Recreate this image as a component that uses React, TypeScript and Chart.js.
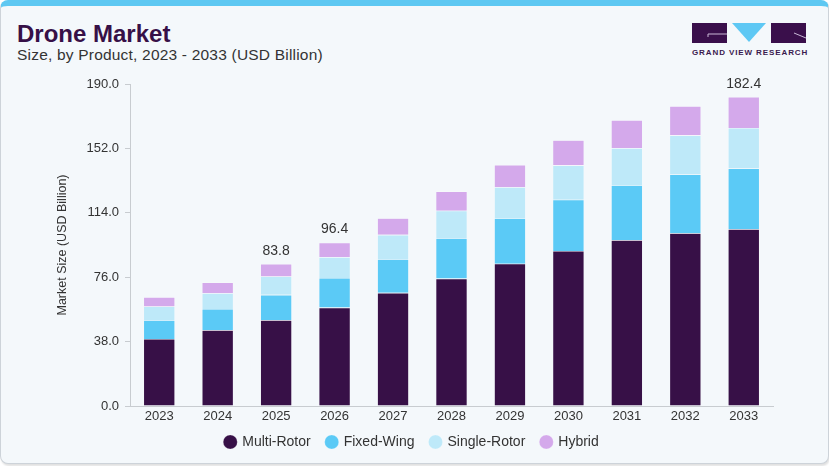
import React, { useEffect, useRef } from "react";
import { Chart, registerables } from "chart.js";

Chart.register(...registerables);

const years = ["2023", "2024", "2025", "2026", "2027", "2028", "2029", "2030", "2031", "2032", "2033"];
const multiRotor = [39.6, 44.8, 50.7, 58.1, 66.8, 75.2, 84.0, 91.5, 97.9, 102.0, 104.4];
const fixedWing = [11.1, 12.5, 14.9, 17.5, 19.9, 23.9, 26.8, 30.2, 32.4, 34.6, 35.8];
const singleRotor = [8.0, 9.3, 10.8, 12.3, 14.3, 16.1, 18.3, 20.3, 21.9, 23.1, 23.9];
const hybrid = [5.6, 6.4, 7.4, 8.5, 9.8, 11.5, 13.1, 14.8, 16.5, 17.3, 18.3];
const totalLabels = ["", "", "83.8", "96.4", "", "", "", "", "", "", "182.4"];
const yMin = 0;
const yMax = 190;
const yStep = 38;

const FONT = "'Liberation Sans', Arial, sans-serif";

const totalsPlugin = {
  id: "totals",
  afterDatasetsDraw(chart: any) {
    const ctx = chart.ctx;
    const lastMeta = chart.getDatasetMeta(chart.data.datasets.length - 1);
    ctx.save();
    ctx.font = `14px ${FONT}`;
    ctx.fillStyle = "#333333";
    ctx.textAlign = "center";
    ctx.textBaseline = "middle";
    totalLabels.forEach((lbl, i) => {
      if (!lbl) return;
      const el = lastMeta.data[i];
      if (!el) return;
      ctx.fillText(lbl, el.x, el.y - 13);
    });
    ctx.restore();
  },
};

const legendShiftPlugin = {
  id: "legendShift",
  afterLayout(chart: any) {
    const l = chart.legend;
    if (l) {
      l.top -= 7;
      l.bottom -= 7;
    }
  },
};

function Logo() {
  return (
    <div style={{ position: "absolute", left: 692, top: 23, width: 116 }}>
      <svg width="114" height="20" viewBox="0 0 114 20" style={{ display: "block" }}>
        <rect x="0" y="0" width="35" height="20" fill="#3a0f4b" />
        <polyline points="16,14 16,11 35,11" fill="none" stroke="#c9b8d6" strokeWidth="1" />
        <polygon points="40,0 74,0 57,19" fill="#5ec8f4" />
        <rect x="79" y="0" width="35" height="20" fill="#3a0f4b" />
        <polyline points="102,10 114,15" fill="none" stroke="#c9b8d6" strokeWidth="1" />
      </svg>
      <div
        style={{
          marginTop: 5,
          fontFamily: FONT,
          fontWeight: 700,
          fontSize: 8,
          letterSpacing: 0.9,
          color: "#3a1a4f",
          whiteSpace: "nowrap",
        }}
      >
        GRAND VIEW RESEARCH
      </div>
    </div>
  );
}

export default function App() {
  const canvasRef = useRef<HTMLCanvasElement | null>(null);

  useEffect(() => {
    document.body.style.margin = "0";
    const canvas = canvasRef.current;
    if (!canvas) return;
    const border = "rgba(255,255,255,0.35)";
    const chart = new Chart(canvas, {
      type: "bar",
      data: {
        labels: years,
        datasets: [
          { label: "Multi-Rotor", data: multiRotor, backgroundColor: "#371047", borderColor: border, borderWidth: 0.6 },
          { label: "Fixed-Wing", data: fixedWing, backgroundColor: "#5bcaf6", borderColor: border, borderWidth: 0.6 },
          { label: "Single-Rotor", data: singleRotor, backgroundColor: "#bee9f9", borderColor: border, borderWidth: 0.6 },
          { label: "Hybrid", data: hybrid, backgroundColor: "#d4a9eb", borderColor: border, borderWidth: 0.6 },
        ],
      },
      options: {
        animation: false,
        responsive: false,
        maintainAspectRatio: false,
        devicePixelRatio: 1,
        layout: { padding: { left: 51, right: 56, top: 84, bottom: 0 } },
        datasets: { bar: { barPercentage: 0.54, categoryPercentage: 1 } },
        scales: {
          x: {
            stacked: true,
            grid: { display: false, drawTicks: false },
            border: { display: true, color: "#c8ccd0", width: 1 },
            ticks: { color: "#333333", font: { family: FONT, size: 13 }, padding: 3, maxRotation: 0 },
            afterFit: (s: any) => {
              s.height = 20;
            },
          },
          y: {
            stacked: true,
            min: yMin,
            max: yMax,
            grid: { drawOnChartArea: false, drawTicks: true, tickLength: 5, color: "#c8ccd0" },
            border: { display: true, color: "#c8ccd0", width: 1 },
            ticks: {
              stepSize: yStep,
              color: "#333333",
              font: { family: FONT, size: 13 },
              padding: 6,
              callback: (v: any) => Number(v).toFixed(1),
            },
            title: {
              display: true,
              text: "Market Size (USD Billion)",
              color: "#333333",
              font: { family: FONT, size: 12.5 },
              padding: { top: 4, bottom: 4 },
            },
            afterFit: (s: any) => {
              s.width = 79;
            },
          },
        },
        plugins: {
          legend: {
            position: "bottom",
            labels: {
              usePointStyle: true,
              pointStyle: "circle",
              boxWidth: 10,
              boxHeight: 10,
              padding: 16,
              color: "#333333",
              font: { family: FONT, size: 14 },
            },
          },
          tooltip: { enabled: false },
        },
      },
      plugins: [totalsPlugin, legendShiftPlugin],
    });
    return () => chart.destroy();
  }, []);

  return (
    <div style={{ position: "relative", width: 829, height: 466, overflow: "hidden" }}>
      <div
        style={{
          position: "absolute",
          left: 0,
          top: 0,
          width: 829,
          height: 464,
          boxSizing: "border-box",
          border: "1px solid #cdd3d9",
          borderTop: "6px solid #5ec8f2",
          borderRadius: 8,
          background: "#f4f8fb",
          boxShadow: "1px 2px 2px rgba(0,0,0,0.12)",
        }}
      />
      <div
        style={{
          position: "absolute",
          left: 17,
          top: 21,
          fontFamily: FONT,
          fontWeight: 700,
          fontSize: 24,
          color: "#371047",
          whiteSpace: "nowrap",
          lineHeight: "26px",
        }}
      >
        Drone Market
      </div>
      <div
        style={{
          position: "absolute",
          left: 17,
          top: 46,
          fontFamily: FONT,
          fontSize: 15.5,
          letterSpacing: 0.2,
          color: "#333333",
          whiteSpace: "nowrap",
          lineHeight: "18px",
        }}
      >
        Size, by Product, 2023 - 2033 (USD Billion)
      </div>
      <Logo />
      <canvas
        ref={canvasRef}
        width={829}
        height={466}
        style={{ position: "absolute", left: 0, top: 0, width: 829, height: 466 }}
      />
    </div>
  );
}
